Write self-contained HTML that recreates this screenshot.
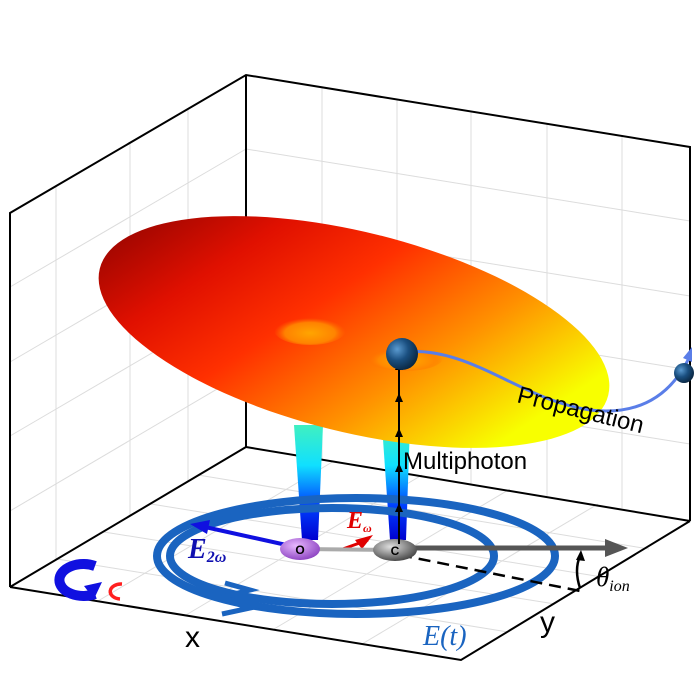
<!DOCTYPE html>
<html><head><meta charset="utf-8"><style>
html,body{margin:0;padding:0;background:#fff;}
svg{display:block;}
</style></head><body>
<svg width="700" height="700" viewBox="0 0 700 700" xmlns="http://www.w3.org/2000/svg">
<defs>
<linearGradient id="disk" x1="0" y1="0" x2="1" y2="0.35">
<stop offset="0" stop-color="#7a0000"/>
<stop offset="0.3" stop-color="#e01000"/>
<stop offset="0.5" stop-color="#ff3000"/>
<stop offset="0.75" stop-color="#ff9000"/>
<stop offset="1" stop-color="#f8ff00"/>
</linearGradient>
<linearGradient id="pil" x1="0" y1="0" x2="0" y2="1">
<stop offset="0" stop-color="#40f0c0"/>
<stop offset="0.35" stop-color="#10e0ff"/>
<stop offset="0.7" stop-color="#0040ff"/>
<stop offset="1" stop-color="#0000d0"/>
</linearGradient>
<radialGradient id="ball" cx="0.35" cy="0.35" r="0.7">
<stop offset="0" stop-color="#5a9ad0"/><stop offset="0.5" stop-color="#1a4f80"/><stop offset="1" stop-color="#0a2640"/>
</radialGradient>
<radialGradient id="oat" cx="0.4" cy="0.35" r="0.7"><stop offset="0" stop-color="#e8b8ff"/><stop offset="1" stop-color="#8a40c0"/></radialGradient>
<radialGradient id="cat" cx="0.4" cy="0.35" r="0.7"><stop offset="0" stop-color="#e0e0e0"/><stop offset="1" stop-color="#404040"/></radialGradient>
<radialGradient id="dimp" cx="0.5" cy="0.6" r="0.5"><stop offset="0" stop-color="#ffb000"/><stop offset="0.7" stop-color="#ff8a00"/><stop offset="1" stop-color="#ff6a00" stop-opacity="0"/></radialGradient>
</defs>
<g stroke="#dcdcdc" stroke-width="1" fill="none">
<line x1="322" y1="87" x2="322" y2="459"/><line x1="397" y1="99" x2="397" y2="472"/><line x1="471" y1="111" x2="471" y2="484"/><line x1="547" y1="123" x2="547" y2="496"/><line x1="622" y1="135" x2="622" y2="508"/>
<line x1="246" y1="149" x2="690" y2="221"/><line x1="246" y1="224" x2="690" y2="296"/><line x1="246" y1="298" x2="690" y2="370"/><line x1="246" y1="372" x2="690" y2="444"/>
<line x1="56" y1="186" x2="56" y2="560"/><line x1="130" y1="143" x2="130" y2="516"/><line x1="188" y1="109" x2="188" y2="482"/>
<line x1="10" y1="287" x2="246" y2="149"/><line x1="10" y1="362" x2="246" y2="224"/><line x1="10" y1="436" x2="246" y2="298"/><line x1="10" y1="511" x2="246" y2="372"/>
<line x1="57" y1="559" x2="508" y2="632"/><line x1="104" y1="532" x2="555" y2="604"/><line x1="151" y1="504" x2="602" y2="577"/><line x1="198" y1="475" x2="649" y2="549"/>
<line x1="98" y1="601" x2="334" y2="461"/><line x1="186" y1="615" x2="422" y2="475"/><line x1="274" y1="629" x2="510" y2="489"/><line x1="362" y1="644" x2="598" y2="504"/>
</g>
<g stroke="#000" stroke-width="2" fill="none">
<polyline points="10,587 10,213 246,75 690,147 690,521"/>
<line x1="246" y1="75" x2="246" y2="447"/>
<line x1="246" y1="447" x2="690" y2="521"/>
<line x1="246" y1="447" x2="10" y2="587"/>
<polyline points="10,587 461,660 690,521"/>
</g>
<polygon points="294,425 323,425 318,540 302,540" fill="url(#pil)"/>
<polygon points="382,425 410,425 406,540 390,540" fill="url(#pil)"/>
<ellipse cx="354" cy="332" rx="262" ry="100" transform="rotate(14 354 332)" fill="url(#disk)"/>
<ellipse cx="310" cy="330" rx="36" ry="15" fill="url(#dimp)" opacity="0.9"/>
<ellipse cx="405" cy="358" rx="38" ry="13" fill="url(#dimp)" opacity="0.9"/>
<g fill="none" stroke="#1a64c0" stroke-width="8">
<ellipse cx="356" cy="556" rx="199" ry="58"/>
<ellipse cx="332" cy="556" rx="162" ry="48"/>
</g>
<path d="M225,583 L250,590 L222,597" fill="none" stroke="#1a64c0" stroke-width="5"/>
<path d="M225,600 L250,608 L222,614" fill="none" stroke="#1a64c0" stroke-width="5"/>
<line x1="400" y1="555" x2="585" y2="592" stroke="#000" stroke-width="2.5" stroke-dasharray="12,7"/>
<line x1="400" y1="548" x2="610" y2="548" stroke="#555" stroke-width="5"/>
<polygon points="605,539 628,548 605,557" fill="#555"/>
<line x1="300" y1="548" x2="205" y2="527" stroke="#1010e0" stroke-width="4"/>
<polygon points="210,520 190,524 207,534" fill="#1010e0"/>
<line x1="340" y1="550" x2="368" y2="540" stroke="#e00000" stroke-width="3"/>
<polygon points="355,540 373,535 362,549" fill="#e00000"/>
<line x1="300" y1="549" x2="395" y2="550" stroke="#aaa" stroke-width="4"/>
<ellipse cx="300" cy="549" rx="20" ry="11" fill="url(#oat)"/>
<text x="300" y="554" font-family="Liberation Sans, sans-serif" font-size="12" font-weight="bold" text-anchor="middle">O</text>
<ellipse cx="395" cy="550" rx="22" ry="11" fill="url(#cat)"/>
<text x="395" y="555" font-family="Liberation Sans, sans-serif" font-size="12" font-weight="bold" text-anchor="middle">C</text>
<line x1="399" y1="544" x2="399" y2="358" stroke="#000" stroke-width="2"/>
<g fill="#000"><polygon points="395,512 399,503 403,512"/><polygon points="395,472 399,463 403,472"/><polygon points="395,437 399,428 403,437"/><polygon points="395,402 399,393 403,402"/><polygon points="395,370 399,361 403,370"/></g>
<path d="M402,352 C470,345 520,400 590,410 C640,416 670,395 688,360" fill="none" stroke="#5a7ee8" stroke-width="3"/>
<polygon points="683,358 692,347 692,362" fill="#5a7ee8"/>
<circle cx="402" cy="354" r="16" fill="url(#ball)"/>
<circle cx="684" cy="373" r="10" fill="url(#ball)"/>
<path d="M580,556 Q574,570 580,588" fill="none" stroke="#000" stroke-width="2.5"/>
<polygon points="576,560 581,550 585,561" fill="#000"/>
<text x="403" y="469" font-family="Liberation Sans, sans-serif" font-size="24">Multiphoton</text>
<text x="516" y="402" font-family="Liberation Sans, sans-serif" font-size="24" transform="rotate(14 516 402)">Propagation</text>
<text x="185" y="647" font-family="Liberation Sans, sans-serif" font-size="30">x</text>
<text x="540" y="632" font-family="Liberation Sans, sans-serif" font-size="30">y</text>
<text x="423" y="645" font-family="Liberation Serif, serif" font-size="28" font-style="italic" fill="#1a64c0">E(t)</text>
<text x="188" y="558" font-family="Liberation Serif, serif" font-size="28" font-style="italic" font-weight="bold" fill="#1010b0">E<tspan font-size="16" dy="4">2ω</tspan></text>
<text x="347" y="528" font-family="Liberation Serif, serif" font-size="24" font-style="italic" font-weight="bold" fill="#e00000">E<tspan font-size="12" dy="4">ω</tspan></text>
<text x="596" y="586" font-family="Liberation Serif, serif" font-size="27" font-style="italic">θ<tspan font-size="16" dy="5">ion</tspan></text>
<path d="M95,566 A24,16 0 1 0 95,594" fill="none" stroke="#1010e0" stroke-width="10"/>
<polygon points="84,586 102,582 94,599" fill="#1010e0"/>
<path d="M122,584 A10,7 0 1 0 120,599" fill="none" stroke="#ff2020" stroke-width="3.5"/>
</svg>
</body></html>
